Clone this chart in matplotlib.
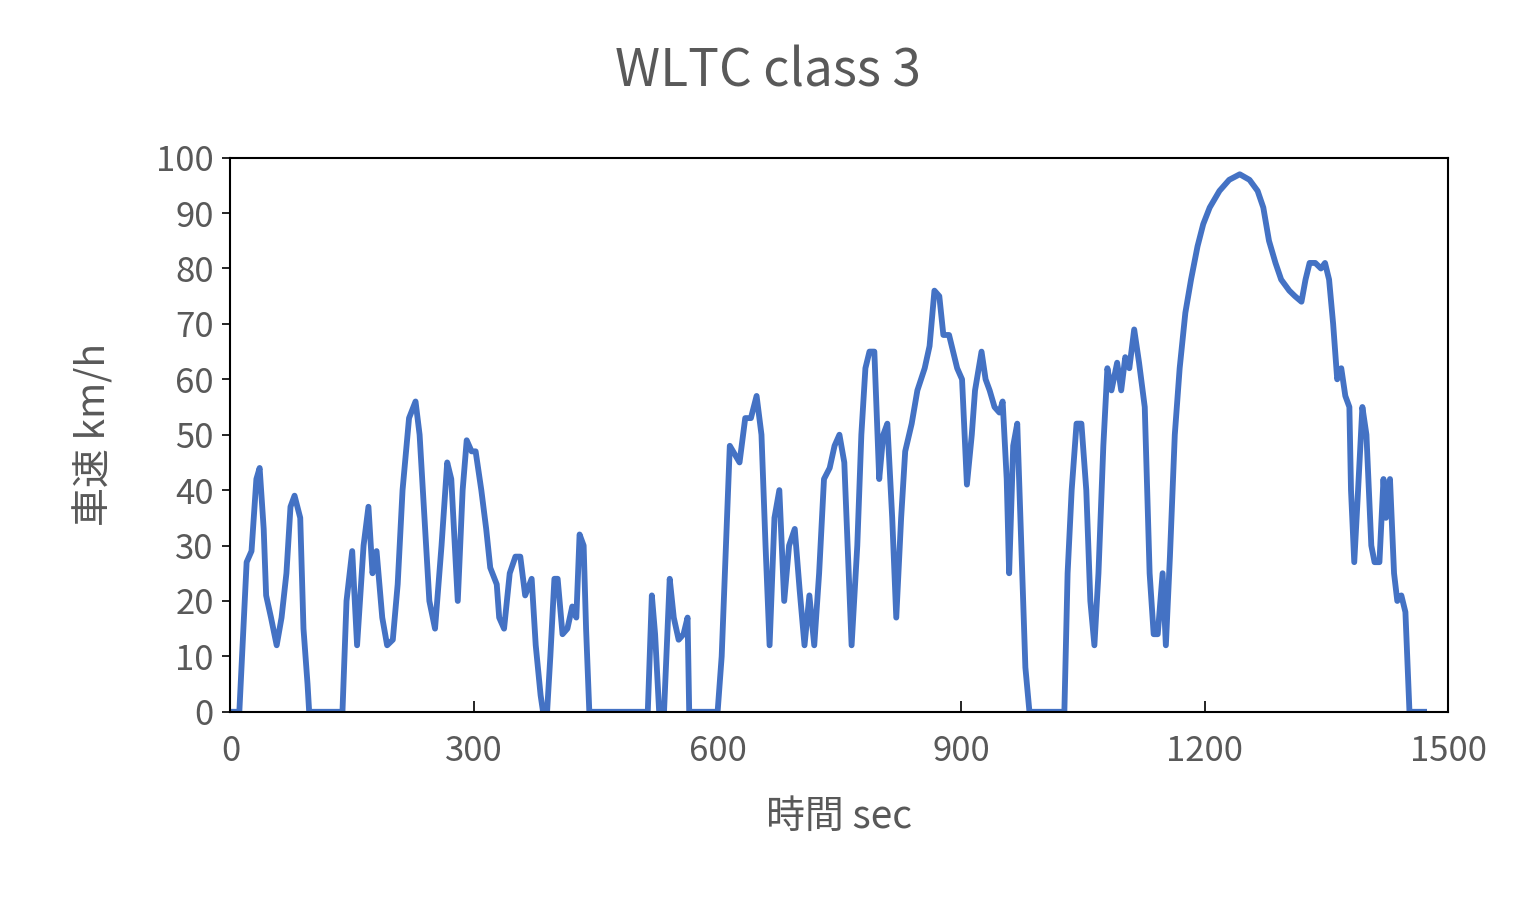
import matplotlib
matplotlib.use("Agg")
import matplotlib.pyplot as plt

# WLTC class 3 speed trace (time s, speed km/h)
time_s = [0, 11, 20, 26, 32, 36, 41, 44, 50, 57, 63, 69, 74, 79, 86, 90, 95, 97,
          138, 143, 150, 156, 164, 170, 175, 180, 187, 193, 200, 206, 212, 220, 228,
          233, 239, 245, 252, 260, 267, 272, 280, 286, 291, 297, 302, 309, 315, 320,
          328, 331, 337, 344, 351, 357, 363, 371, 376, 382, 385, 390, 394, 399, 403,
          409, 415, 421, 426, 430, 435, 438, 442, 514, 519, 523, 528, 534, 541, 546,
          552, 558, 563, 565, 600, 605, 615, 627, 634, 641, 648, 654, 659, 664, 670,
          676, 682, 688, 695, 701, 707, 713, 719, 725, 731, 738, 744, 750, 756, 765,
          772, 777, 782, 787, 793, 799, 804, 809, 815, 820, 826, 831, 839, 846, 855,
          861, 867, 873, 878, 885, 895, 901, 907, 913, 917, 925, 930, 935, 941, 947,
          951, 956, 959, 964, 969, 974, 979, 984, 1027, 1031, 1036, 1042, 1048, 1054,
          1059, 1064, 1069, 1075, 1080, 1085, 1092, 1097, 1102, 1107, 1113, 1119, 1126,
          1132, 1137, 1142, 1148, 1152, 1157, 1163, 1169, 1176, 1183, 1191, 1198, 1206,
          1218, 1230, 1243, 1255, 1265, 1272, 1279, 1287, 1294, 1304, 1311, 1319, 1324,
          1329, 1336, 1343, 1348, 1353, 1358, 1363, 1368, 1373, 1378, 1380, 1384, 1388,
          1394, 1399, 1405, 1409, 1415, 1420, 1423, 1428, 1433, 1437, 1442, 1447, 1452,
          1470]
speed_kmh = [0, 0, 27, 29, 42, 44, 33, 21, 17, 12, 17, 25, 37, 39, 35, 15, 5, 0,
             0, 20, 29, 12, 30, 37, 25, 29, 17, 12, 13, 23, 40, 53, 56,
             50, 35, 20, 15, 30, 45, 42, 20, 40, 49, 47, 47, 40, 33, 26,
             23, 17, 15, 25, 28, 28, 21, 24, 12, 3, 0, 0, 10, 24, 24,
             14, 15, 19, 17, 32, 30, 15, 0, 0, 21, 14, 0, 0, 24, 17,
             13, 14, 17, 0, 0, 10, 48, 45, 53, 53, 57, 50, 30, 12, 35,
             40, 20, 30, 33, 22, 12, 21, 12, 25, 42, 44, 48, 50, 45, 12,
             30, 50, 62, 65, 65, 42, 50, 52, 35, 17, 35, 47, 52, 58, 62,
             66, 76, 75, 68, 68, 62, 60, 41, 50, 58, 65, 60, 58, 55, 54,
             56, 42, 25, 48, 52, 30, 8, 0, 0, 25, 40, 52, 52, 40,
             20, 12, 25, 48, 62, 58, 63, 58, 64, 62, 69, 63, 55,
             25, 14, 14, 25, 12, 28, 50, 62, 72, 78, 84, 88, 91,
             94, 96, 97, 96, 94, 91, 85, 81, 78, 76, 75, 74, 78,
             81, 81, 80, 81, 78, 70, 60, 62, 57, 55, 40, 27, 38,
             55, 50, 30, 27, 27, 42, 35, 42, 25, 20, 21, 18, 0,
             0]
x_ticks = [0, 300, 600, 900, 1200, 1500]
y_ticks = list(range(0, 101, 10))

gray = "#595959"
plt.rcParams["font.family"] = ["Noto Sans CJK JP", "DejaVu Sans"]

fig = plt.figure(figsize=(15.36, 9.22), dpi=100)
ax = fig.add_axes([0.150, 0.228, 0.793, 0.601])
ax.plot(time_s, speed_kmh, color="#4472C4", lw=4.2, solid_joinstyle="round")

ax.set_xlim(0, 1500)
ax.set_ylim(0, 100)
ax.set_xticks(x_ticks)
ax.set_yticks(y_ticks)
ax.tick_params(axis="x", direction="in", length=8, width=1.2, pad=16,
               labelsize=25, labelcolor=gray)
ax.tick_params(axis="y", direction="out", length=6, width=1.2, pad=6,
               labelsize=25, labelcolor=gray)
for s in ax.spines.values():
    s.set_linewidth(1.5)
    s.set_color("black")

ax.set_xlabel("時間 sec", fontsize=28, color=gray, labelpad=20)
ax.set_ylabel("車速 km/h", fontsize=28, color=gray, labelpad=30)
fig.text(0.5, 0.922, "WLTC class 3", ha="center", va="center", fontsize=37, color=gray)

fig.savefig("out.png", dpi=100, facecolor="white")
